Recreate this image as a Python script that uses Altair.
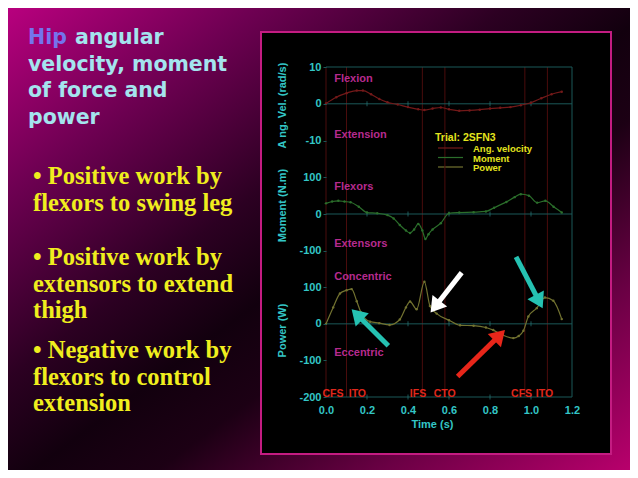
import altair as alt
import pandas as pd

# ---------------- values ----------------
time_vel = [0.00, 0.05, 0.10, 0.15, 0.18, 0.22, 0.26, 0.30, 0.35, 0.40, 0.45, 0.48, 0.52,
            0.56, 0.60, 0.65, 0.70, 0.75, 0.80, 0.85, 0.90, 0.95, 1.00, 1.05, 1.10, 1.15]
ang_vel = [0.1, 1.8, 2.9, 3.6, 3.6, 2.6, 1.3, 0.4, -0.2, -0.9, -1.5, -1.7, -1.3,
           -1.0, -1.5, -1.9, -1.8, -1.6, -1.3, -1.1, -0.9, -0.4, 0.3, 1.5, 2.6, 3.3]

time_mom = [0.00, 0.03, 0.06, 0.09, 0.12, 0.16, 0.20, 0.25, 0.30, 0.33, 0.36, 0.39, 0.41,
            0.43, 0.45, 0.47, 0.485, 0.50, 0.52, 0.56, 0.60, 0.65, 0.72, 0.78, 0.82, 0.88,
            0.92, 0.95, 0.99, 1.03, 1.07, 1.11, 1.15]
moment = [29, 34, 36, 34, 32, 20, 4, 2, -3, -12, -30, -45, -52,
          -42, -27, -45, -68, -55, -42, -25, 2, 4, 5, 7, 17, 33,
          46, 54, 50, 31, 36, 20, 4]

time_pow = [0.00, 0.035, 0.068, 0.10, 0.125, 0.15, 0.17, 0.215, 0.26, 0.31, 0.36, 0.39,
            0.41, 0.442, 0.48, 0.507, 0.54, 0.60, 0.654, 0.72, 0.78, 0.816, 0.86, 0.914,
            0.94, 0.963, 0.987, 1.028, 1.068, 1.109, 1.15]
power = [0, 45, 83, 92, 95, 62, 32, 6, 2, -3, 12, 45,
         61, 40, 115, 49, 28, 10, -4, -5, -10, -17, -30, -39,
         -33, -19, 20, 43, 72, 63, 13]

event_times = [0.0, 0.10, 0.47, 0.58, 0.97, 1.08]
event_names = ["CFS", "ITO", "IFS", "CTO", "CFS", "ITO"]
event_name_times = [0.034, 0.153, 0.449, 0.579, 0.954, 1.066]

x_ticks = [0.0, 0.2, 0.4, 0.6, 0.8, 1.0, 1.2]
inner_ticks = [0.2, 0.4, 0.6, 0.8, 1.0]
vel_ticks = [10, 0, -10]
mom_ticks = [100, 0, -100]
pow_ticks = [100, 0, -100, -200]

vel_notes = ["Flexion", "Extension"]
vel_note_values = [6.8, -8.6]
mom_notes = ["Flexors", "Extensors"]
mom_note_values = [74, -82]
pow_notes = ["Concentric", "Eccentric"]
pow_note_values = [128, -79]

legend_title = "Trial: 2SFN3"
series_names = ["Ang. velocity", "Moment", "Power"]

arrow_tail_t = [0.304, 0.662, 0.642, 0.927]
arrow_tail_p = [-60, 140, -144, 183]
arrow_tip_t = [0.125, 0.51, 0.873, 1.057]
arrow_tip_p = [40, 31, -17, 43]

title_highlight = "Hip"
title_lines = ["angular", "velocity, moment", "of force and", "power"]
bullet_groups = [
    ["• Positive work by", "flexors to swing leg"],
    ["• Positive work by", "extensors to extend", "thigh"],
    ["• Negative work by", "flexors to control", "extension"],
]

# ---------------- styles ----------------
SANS = "Liberation Sans"
TEAL = "#33c6c6"
TEAL_DIM = "#1b5858"
EVENT_RED = "#4a0c0c"
MAGENTA = "#b62a8e"
LEG_YELLOW = "#e4e41e"
RED_LABEL = "#e0281c"
series_colors = ["#731919", "#2b6e2b", "#727230"]
arrow_colors = ["#25c2b2", "#ffffff", "#e8261a", "#25c2b2"]
arrow_angles = [315, 218, 45, 152]
ARROW_HEAD = "M0,0L0.62,1L-0.62,1Z"
HYPHEN_LABEL = "datum.value < 0 ? '-' + format(-datum.value, 'd') : format(datum.value, 'd')"

# ---------------- layout (pixels) ----------------
W = 246
H_VEL, H_MOM, H_POW = 92, 110, 128
OX, OY = 326, 67          # page position of the top-left of the plot area


def px(x):
    return x - OX


def py(y):
    return y - OY


DUMMY = pd.DataFrame({"d": [0]})
x_scale = alt.Scale(domain=[0, 1.2], nice=False, zero=False)

X_plain = alt.X("t:Q", scale=x_scale, axis=None)
X_bottom = alt.X(
    "t:Q", scale=x_scale,
    axis=alt.Axis(values=x_ticks, format=".1f", title="Time (s)", domain=False, ticks=False,
                  grid=False, labelColor=TEAL, labelFont=SANS, labelFontSize=11,
                  labelFontWeight="bold", labelPadding=7, labelFlush=False, labelOverlap=False,
                  titleColor=TEAL, titleFont=SANS, titleFontSize=11, titleFontWeight="bold",
                  titleX=106, titleY=27, titleAlign="center", titleBaseline="middle", zindex=1))


def y_enc(domain, values, title, title_y):
    return alt.Y(
        "v:Q", scale=alt.Scale(domain=domain, nice=False, zero=False),
        axis=alt.Axis(title=title, values=values, grid=False, domain=False, ticks=True,
                      tickSize=3, tickColor=TEAL_DIM, labelColor=TEAL, labelFont=SANS,
                      labelFontSize=11, labelFontWeight="bold", labelPadding=2,
                      labelExpr=HYPHEN_LABEL,
                      labelOverlap=False, labelFlush=False, titleColor=TEAL, titleFont=SANS,
                      titleFontSize=11, titleFontWeight="bold", titleAngle=270, titleX=-44,
                      titleY=title_y, titleAlign="center", titleBaseline="middle", zindex=1))


def frame_layers(X, Y, h, hlines, tick_levels):
    ev = alt.Chart(pd.DataFrame({"t": event_times})).mark_rule(
        color=EVENT_RED, strokeWidth=1).encode(x=X, y=alt.value(0), y2=alt.value(h))
    edge = alt.Chart(pd.DataFrame({"t": [x_ticks[-1]]})).mark_rule(
        color=TEAL_DIM, strokeWidth=1).encode(x=X, y=alt.value(0), y2=alt.value(h))
    hl = alt.Chart(pd.DataFrame({"v": hlines})).mark_rule(
        color=TEAL_DIM, strokeWidth=1).encode(y=Y, x=alt.value(0), x2=alt.value(W))
    rows = {"t": [t for lv in tick_levels for t in inner_ticks],
            "v": [lv for lv in tick_levels for t in inner_ticks]}
    tk = alt.Chart(pd.DataFrame(rows)).mark_tick(
        orient="vertical", size=5, thickness=1, color="#2a7a7a").encode(x=X, y=Y)
    return [ev, edge, hl, tk]


def curve(ts, vs, color, X, Y):
    return alt.Chart(pd.DataFrame({"t": ts, "v": vs})).mark_line(
        color=color, strokeWidth=1.2, interpolate="monotone",
        point=alt.OverlayMarkDef(filled=True, size=6, color=color)).encode(x=X, y=Y)


def notes(labels, values, X, Y):
    df = pd.DataFrame({"label": labels, "v": values, "t": [0.04] * len(labels)})
    return alt.Chart(df).mark_text(
        align="left", baseline="middle", color=MAGENTA, font=SANS, fontSize=11,
        fontWeight="bold").encode(x=X, y=Y, text="label:N")


def text_at(x, y, s, color, font, size, weight="bold", baseline="alphabetic"):
    return alt.Chart(DUMMY).mark_text(
        align="left", baseline=baseline, color=color, font=font, fontSize=size,
        fontWeight=weight).encode(x=alt.value(x), y=alt.value(y), text=alt.value(s))


# ---------------- slide decoration (panel-1 pixel space) ----------------
GRAD = {"gradient": "linear", "x1": 0, "y1": 0, "x2": 1, "y2": 1,
        "stops": [{"offset": 0.0, "color": "#b8007e"},
                  {"offset": 0.2, "color": "#6e0052"},
                  {"offset": 0.4, "color": "#2c0022"},
                  {"offset": 0.52, "color": "#12000e"},
                  {"offset": 0.62, "color": "#1c0014"},
                  {"offset": 0.8, "color": "#6a0044"},
                  {"offset": 1.0, "color": "#b8006c"}]}
bg = alt.Chart(DUMMY).mark_rect(fill=GRAD).encode(
    x=alt.value(px(8)), x2=alt.value(px(630)), y=alt.value(py(8)), y2=alt.value(py(470)))
box = alt.Chart(DUMMY).mark_rect(fill="#000000", stroke="#c41c82", strokeWidth=2).encode(
    x=alt.value(px(261)), x2=alt.value(px(611)), y=alt.value(py(32)), y2=alt.value(py(454)))

slide_text = [text_at(px(28), py(44), title_highlight, "#7474ec", "DejaVu Sans", 20.5)]
for i, line in enumerate(title_lines):
    x0 = 75 if i == 0 else 28
    slide_text.append(text_at(px(x0), py(44 + 26.7 * i), line, "#a4e4ee", "DejaVu Sans", 20.5))
group_starts = [184, 265, 358]
for g, lines in enumerate(bullet_groups):
    for j, line in enumerate(lines):
        slide_text.append(text_at(px(33), py(group_starts[g] + 26.5 * j), line, "#f0ee1e",
                                  "Liberation Serif", 24.5))

legend = [text_at(px(435), py(138), legend_title, LEG_YELLOW, SANS, 10.5, baseline="middle")]
for k, name in enumerate(series_names):
    legend.append(text_at(px(473), py(149 + 9.5 * k), name, LEG_YELLOW, SANS, 9.5,
                          baseline="middle"))
    legend.append(alt.Chart(DUMMY).mark_rule(color=series_colors[k], strokeWidth=1.2).encode(
        x=alt.value(px(438)), x2=alt.value(px(463)), y=alt.value(py(148 + 9.5 * k))))

# ---------------- panels ----------------
Y1 = y_enc([-15, 10], vel_ticks, "A ng. Vel. (rad/s)", 38)
Y2 = y_enc([-150, 150], mom_ticks, "Moment (N.m)", 46)
Y3 = y_enc([-200, 150], pow_ticks, "Power (W)", 61)

p1 = alt.layer(
    bg, box, *slide_text,
    *frame_layers(X_plain, Y1, H_VEL, [10, 0], [0]),
    curve(time_vel, ang_vel, series_colors[0], X_plain, Y1),
    notes(vel_notes, vel_note_values, X_plain, Y1),
    *legend,
).properties(width=W, height=H_VEL)

p2 = alt.layer(
    *frame_layers(X_plain, Y2, H_MOM, [0], [0]),
    curve(time_mom, moment, series_colors[1], X_plain, Y2),
    notes(mom_notes, mom_note_values, X_plain, Y2),
).properties(width=W, height=H_MOM)

ev_df = pd.DataFrame({"t": event_name_times, "label": event_names,
                      "v": [-192] * len(event_names)})
ev_text = alt.Chart(ev_df).mark_text(
    align="center", baseline="middle", color=RED_LABEL, font=SANS, fontSize=10.5,
    fontWeight="bold").encode(x=X_bottom, y=Y3, text="label:N")

arrows = pd.DataFrame({"t": arrow_tail_t, "v": arrow_tail_p, "t2": arrow_tip_t,
                       "v2": arrow_tip_p, "c": arrow_colors, "a": arrow_angles})
shaft = alt.Chart(arrows).transform_calculate(
    te="datum.t + 0.8 * (datum.t2 - datum.t)",
    ve="datum.v + 0.8 * (datum.v2 - datum.v)",
).mark_rule(strokeWidth=5).encode(
    x=X_bottom, y=Y3, x2="te:Q", y2="ve:Q", color=alt.Color("c:N", scale=None))
head = alt.Chart(arrows).transform_calculate(
    t="datum.t2", v="datum.v2",
).mark_point(shape=ARROW_HEAD, size=900, filled=True, opacity=1, strokeWidth=0).encode(
    x=X_bottom, y=Y3, color=alt.Color("c:N", scale=None), angle=alt.Angle("a:Q", scale=None))

p3 = alt.layer(
    *frame_layers(X_bottom, Y3, H_POW, [0, -200], [0, -200]),
    curve(time_pow, power, series_colors[2], X_bottom, Y3),
    notes(pow_notes, pow_note_values, X_bottom, Y3),
    ev_text, shaft, head,
).properties(width=W, height=H_POW)

chart = alt.vconcat(p1, p2, p3, spacing=0, bounds="flush").properties(
    padding=0).configure_view(stroke=None)

chart.save("out.html", embed_options={"renderer": "svg", "actions": False})
